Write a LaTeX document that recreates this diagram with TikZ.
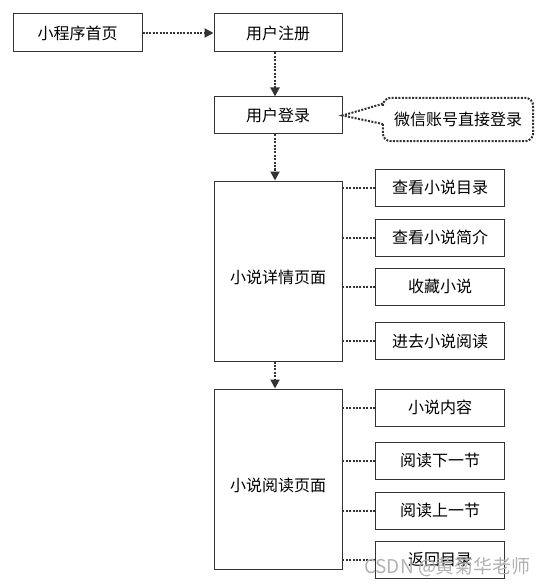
\documentclass[tikz,border=0pt]{standalone}
\usepackage{fontspec}
\newfontfamily\cjk{Noto Sans CJK SC}
\usetikzlibrary{arrows.meta}
\definecolor{ln}{HTML}{333333}
\tikzset{
  box/.style={draw=ln, line width=1pt, minimum width=128pt, minimum height=37pt, inner sep=0pt, font=\cjk\fontsize{16}{16}\selectfont, text=black},
  bigbox/.style={box, minimum height=180pt},
  dotline/.style={draw=ln, line width=2pt, dash pattern=on 2pt off 1.4pt},
  dotarrow/.style={dotline, -{Triangle[length=9pt,width=9pt]}},
}
\begin{document}
\begin{tikzpicture}[x=1pt,y=-1pt]
\fill[white] (0,0) rectangle (549,588);
\useasboundingbox (0,0) rectangle (549,588);
\node[box, minimum width=129pt, minimum height=38pt] (b1) at (77.5,33) {小程序首页};
\node[box, minimum height=38pt] (b2) at (278,33) {用户注册};
\node[box] (b3) at (278,115.5) {用户登录};
\node[font=\cjk\fontsize{16}{16}\selectfont, minimum width=150pt, minimum height=43pt, inner sep=0pt] (bub) at (458,119.5) {微信账号直接登录};
\node[bigbox] (big1) at (278,271) {\raisebox{-12pt}[0pt][0pt]{小说详情页面}};
\node[bigbox] (big2) at (278,479) {\raisebox{-12pt}[0pt][0pt]{小说阅读页面}};
\node[box, minimum width=129pt] (a) at (440,187.5) {查看小说目录};
\node[box, minimum width=129pt] (b) at (440,237.5) {查看小说简介};
\node[box, minimum width=129pt] (c) at (440,286.5) {收藏小说};
\node[box, minimum width=129pt] (d) at (440,341) {进去小说阅读};
\node[box, minimum width=129pt] (e) at (440,407.5) {小说内容};
\node[box, minimum width=129pt] (f) at (440,460.5) {阅读下一节};
\node[box, minimum width=129pt] (g) at (440,510.5) {阅读上一节};
\node[box, minimum width=129pt] (h) at (440,560) {返回目录};
% arrows
\draw[dotarrow] (b1.east) -- (b2.west);
\draw[dotarrow] ([xshift=-3pt]b2.south) -- ([xshift=-3pt]b3.north);
\draw[dotarrow] ([xshift=-3pt]b3.south) -- ([xshift=-3pt]big1.north);
\draw[dotarrow] ([xshift=-3pt]big1.south) -- ([xshift=-3pt]big2.north);
% callout
\draw[dotline, rounded corners=8pt] ([yshift=-4.5pt]bub.west) -- (bub.south west) -- (bub.south east) -- (bub.north east) -- (bub.north west) -- ([yshift=-6pt]bub.north west);
\draw[dotline] ([yshift=-6pt]bub.north west) -- (b3.east) -- ([yshift=-4.5pt]bub.west);
% side connectors
\foreach \n in {a,b,c,d}{\draw[dotline] (\n.west) -- (\n.west -| big1.east);}
\foreach \n in {e,f,g,h}{\draw[dotline] (\n.west) -- (\n.west -| big2.east);}
% watermark
\node[font=\cjk\fontsize{19}{19}\selectfont, text=gray!60, inner sep=0pt] (wm) at (447.5,567) {CSDN @黄菊华老师};
\end{tikzpicture}
\end{document}
